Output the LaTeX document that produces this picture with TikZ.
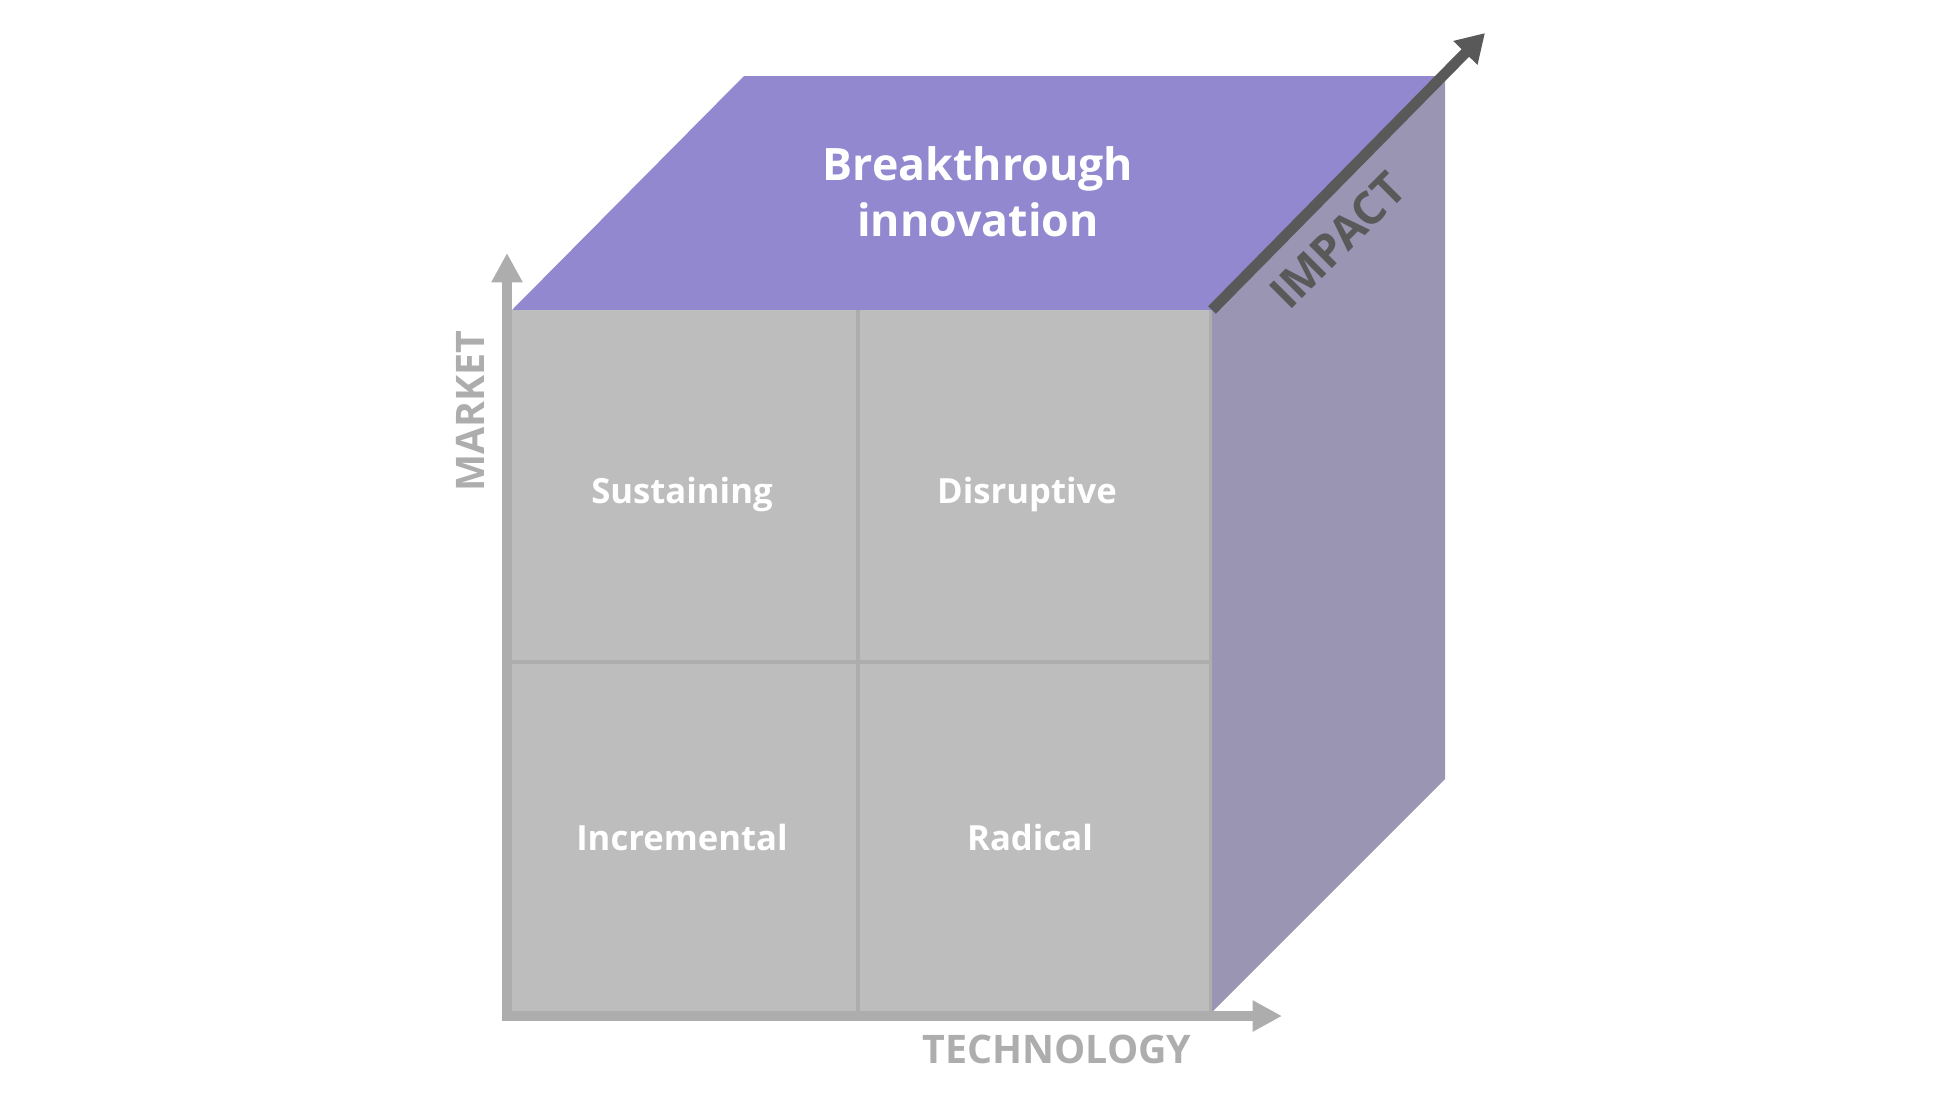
\documentclass[tikz,border=0pt]{standalone}
\usepackage{fontspec}
\setmainfont{Open Sans}
\usetikzlibrary{arrows.meta}
\definecolor{cellgray}{HTML}{BDBDBD}
\definecolor{linegray}{HTML}{ADADAD}
\definecolor{topviolet}{HTML}{9188CF}
\definecolor{sideviolet}{HTML}{9A95B2}
\definecolor{impactgray}{HTML}{595959}
\begin{document}
\begin{tikzpicture}[x=0.75pt,y=-0.75pt,
  lbl/.style={font=\fontsize{26}{42}\selectfont\bfseries, inner sep=0pt, anchor=base},
  celltext/.style={lbl, text=white},
  axistext/.style={lbl, text=linegray, font=\fontsize{29.5}{36}\selectfont\bfseries},
  axisline/.style={draw=linegray, line width=7.5pt, -{Triangle[length=22pt,width=22pt]}},
  gridline/.style={draw=linegray, line width=3.4pt}]
\useasboundingbox (0,0) rectangle (1950,1097);
% cube corners
\coordinate (FTL) at (512,310);
\coordinate (FTR) at (1212,310);
\coordinate (FBL) at (512,1012);
\coordinate (FBR) at (1212,1012);
\coordinate (BTL) at (744,76);
\coordinate (BTR) at (1445,76);
\coordinate (BBR) at (1445,779);
% grid
\coordinate (GT) at (858,310);
\coordinate (GB) at (858,1012);
\coordinate (GL) at (512,662);
\coordinate (GR) at (1212,662);
% axes
\coordinate (OM) at (507,1021);
\coordinate (OT) at (502,1016);
\coordinate (Mtip) at (507,253);
\coordinate (Ttip) at (1282,1016);
\coordinate (Istart) at (1212,310);
\coordinate (Itip) at (1485,33);
% faces
\fill[topviolet] (FTL) -- (BTL) -- (BTR) -- (FTR) -- cycle;
\fill[sideviolet] (FTR) -- (BTR) -- (BBR) -- (FBR) -- cycle;
\fill[cellgray] (FTL) rectangle (FBR);
\draw[gridline] (GT) -- (GB);
\draw[gridline] (GL) -- (GR);
\draw[draw=linegray, line width=2.25pt] ([xshift=-1.1pt]FTR) -- ([xshift=-1.1pt]FBR);
% axes
\draw[axisline] (OM) -- (Mtip);
\draw[axisline] (OT) -- (Ttip);
\draw[draw=impactgray, line width=8pt, -{Triangle[length=21pt,width=24pt]}] (Istart) -- (Itip);
% labels
\node[celltext, align=center, anchor=south, font=\fontsize{33.5}{42}\selectfont\bfseries] (top) at (978,237) {Breakthrough\\innovation};
\node[celltext] (sus) at (682,503) {Sustaining};
\node[celltext] (dis) at (1027,503) {Disruptive};
\node[celltext] (inc) at (682,850) {Incremental};
\node[celltext] (rad) at (1030,850) {Radical};
\node[axistext, rotate=90] (mkt) at (484,411) {MARKET};
\node[axistext] (tech) at (1057,1063) {TECHNOLOGY};
\node[lbl, text=impactgray, rotate=45, font=\fontsize{34}{40}\selectfont\bfseries] (imp) at (1349,252) {IMPACT};
\end{tikzpicture}
\end{document}
